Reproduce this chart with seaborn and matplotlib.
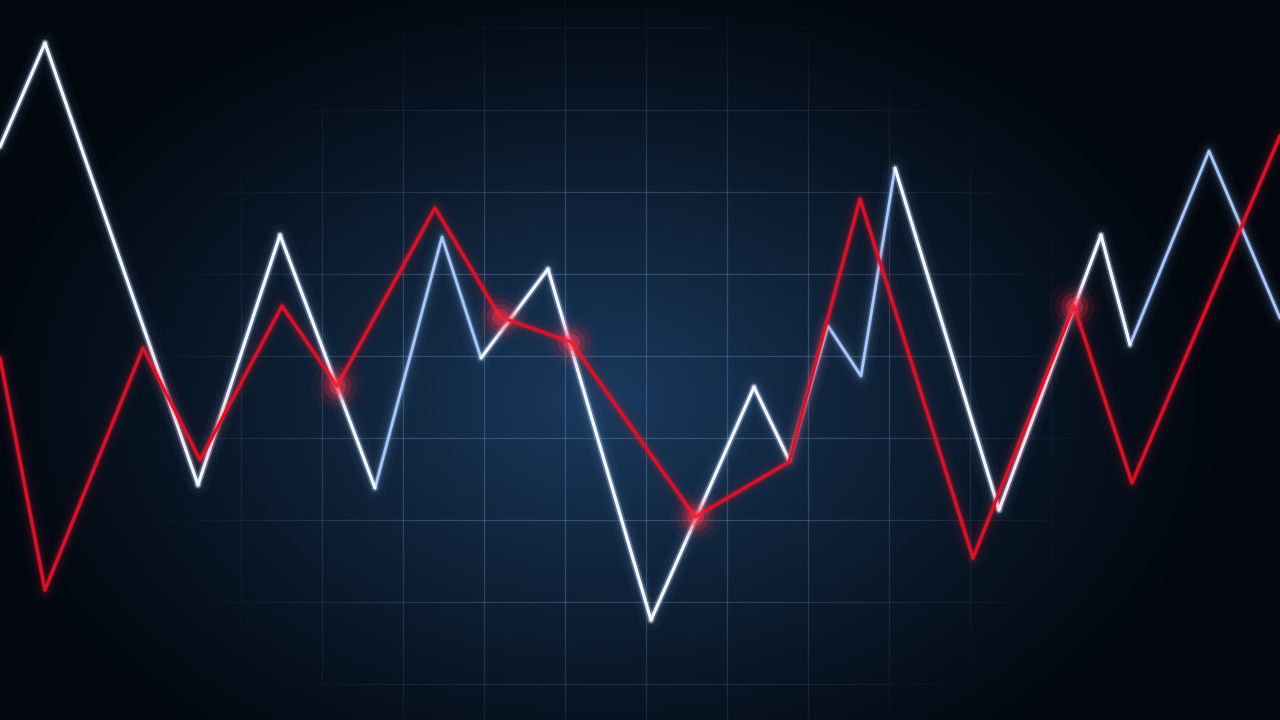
import numpy as np
import pandas as pd
import seaborn as sns
import matplotlib.pyplot as plt

# values (x across, y down from the top, in pixels)
white_x = [0, 45, 198, 280, 375, 442, 481, 548, 651, 754, 789, 828, 861, 895, 999, 1101, 1130, 1209, 1280]
white_y = [147, 43, 485, 235, 488, 237, 358, 269, 620, 387, 460, 326, 376, 168, 510, 235, 345, 151, 318]
red_x = [0, 45, 143, 200, 282, 337, 435, 500, 571, 695, 789, 860, 973, 1074, 1132, 1280]
red_y = [358, 590, 348, 460, 306, 386, 208, 317, 342, 517, 462, 199, 558, 306, 483, 136]

# which segments of the white series are plain white (others are pale blue)
white_bright = [1, 1, 1, 1, 0, 0, 1, 1, 1, 1, 0, 0, 0, 1, 1, 1, 0, 0]
# red points with a hot glow
red_hot = [5, 7, 8, 9, 13]

white = pd.DataFrame({'x': white_x, 'y': white_y})
red = pd.DataFrame({'x': red_x, 'y': red_y})

sns.set_style('dark')
fig = plt.figure(figsize=(12.8, 7.2), dpi=100)
ax = fig.add_axes([0, 0, 1, 1])
ax.set_xlim(0, 1280)
ax.set_ylim(720, 0)
ax.axis('off')

# background: navy glow in the middle, near black at the edges
gx, gy = np.meshgrid(np.linspace(0, 1280, 320), np.linspace(0, 720, 180))
d = np.sqrt(((gx - 600) / 640) ** 2 + ((gy - 400) / 450) ** 2)
t = np.clip(1 - d, 0, 1) ** 1.2
inner = np.array([26, 58, 94]) / 255
outer = np.array([3, 8, 16]) / 255
bg = outer + (inner - outer) * t[..., None]
ax.imshow(bg, extent=[0, 1280, 720, 0], aspect='auto', zorder=0, interpolation='bicubic')

# grid, faded out towards the edges
for gxl in np.arange(79, 1280, 81):
    ax.axvline(gxl, color='#7aa8d6', lw=0.9, alpha=0.3, zorder=1)
for gyl in np.arange(28, 720, 82):
    ax.axhline(gyl, color='#7aa8d6', lw=0.9, alpha=0.3, zorder=1)
dv = np.sqrt(((gx - 620) / 460) ** 2 + ((gy - 400) / 400) ** 2)
va = np.clip((dv - 0.5) / 0.55, 0, 1)
vig = np.zeros(gx.shape + (4,))
vig[..., :3] = bg
vig[..., 3] = va
ax.imshow(vig, extent=[0, 1280, 720, 0], aspect='auto', zorder=2, interpolation='bicubic')


def glow_line(data, color, z):
    for lw, a in [(16, 0.03), (10, 0.05), (6, 0.1), (3.6, 0.25)]:
        sns.lineplot(data=data, x='x', y='y', sort=False, estimator=None, color=color,
                     lw=lw, alpha=a, ax=ax, zorder=z)


# white / blue series
glow_line(white, '#9fc4ff', 4)
sns.lineplot(data=white, x='x', y='y', sort=False, estimator=None, color='#a9c8ff', lw=2.0, ax=ax, zorder=5)
for i, b in enumerate(white_bright):
    if b:
        seg = white.iloc[i:i + 2]
        sns.lineplot(data=seg, x='x', y='y', sort=False, estimator=None, color='#ffffff',
                     lw=5, alpha=0.16, ax=ax, zorder=5)
        sns.lineplot(data=seg, x='x', y='y', sort=False, estimator=None, color='#f4f7ff',
                     lw=2.1, ax=ax, zorder=6)

# red series
glow_line(red, '#ff2035', 7)
sns.lineplot(data=red, x='x', y='y', sort=False, estimator=None, color='#dd1028', lw=2.2, ax=ax, zorder=8)
hot = red.iloc[red_hot]
for s, a in [(1400, 0.05), (800, 0.1), (400, 0.2), (150, 0.4)]:
    ax.scatter(hot['x'], hot['y'], s=s, color='#ff3048', alpha=a, lw=0, zorder=9)

ax.set_xlim(0, 1280)
ax.set_ylim(720, 0)
ax.set_xlabel('')
ax.set_ylabel('')
if ax.get_legend():
    ax.get_legend().remove()
fig.savefig('out.png', dpi=100, facecolor='#03070f')
